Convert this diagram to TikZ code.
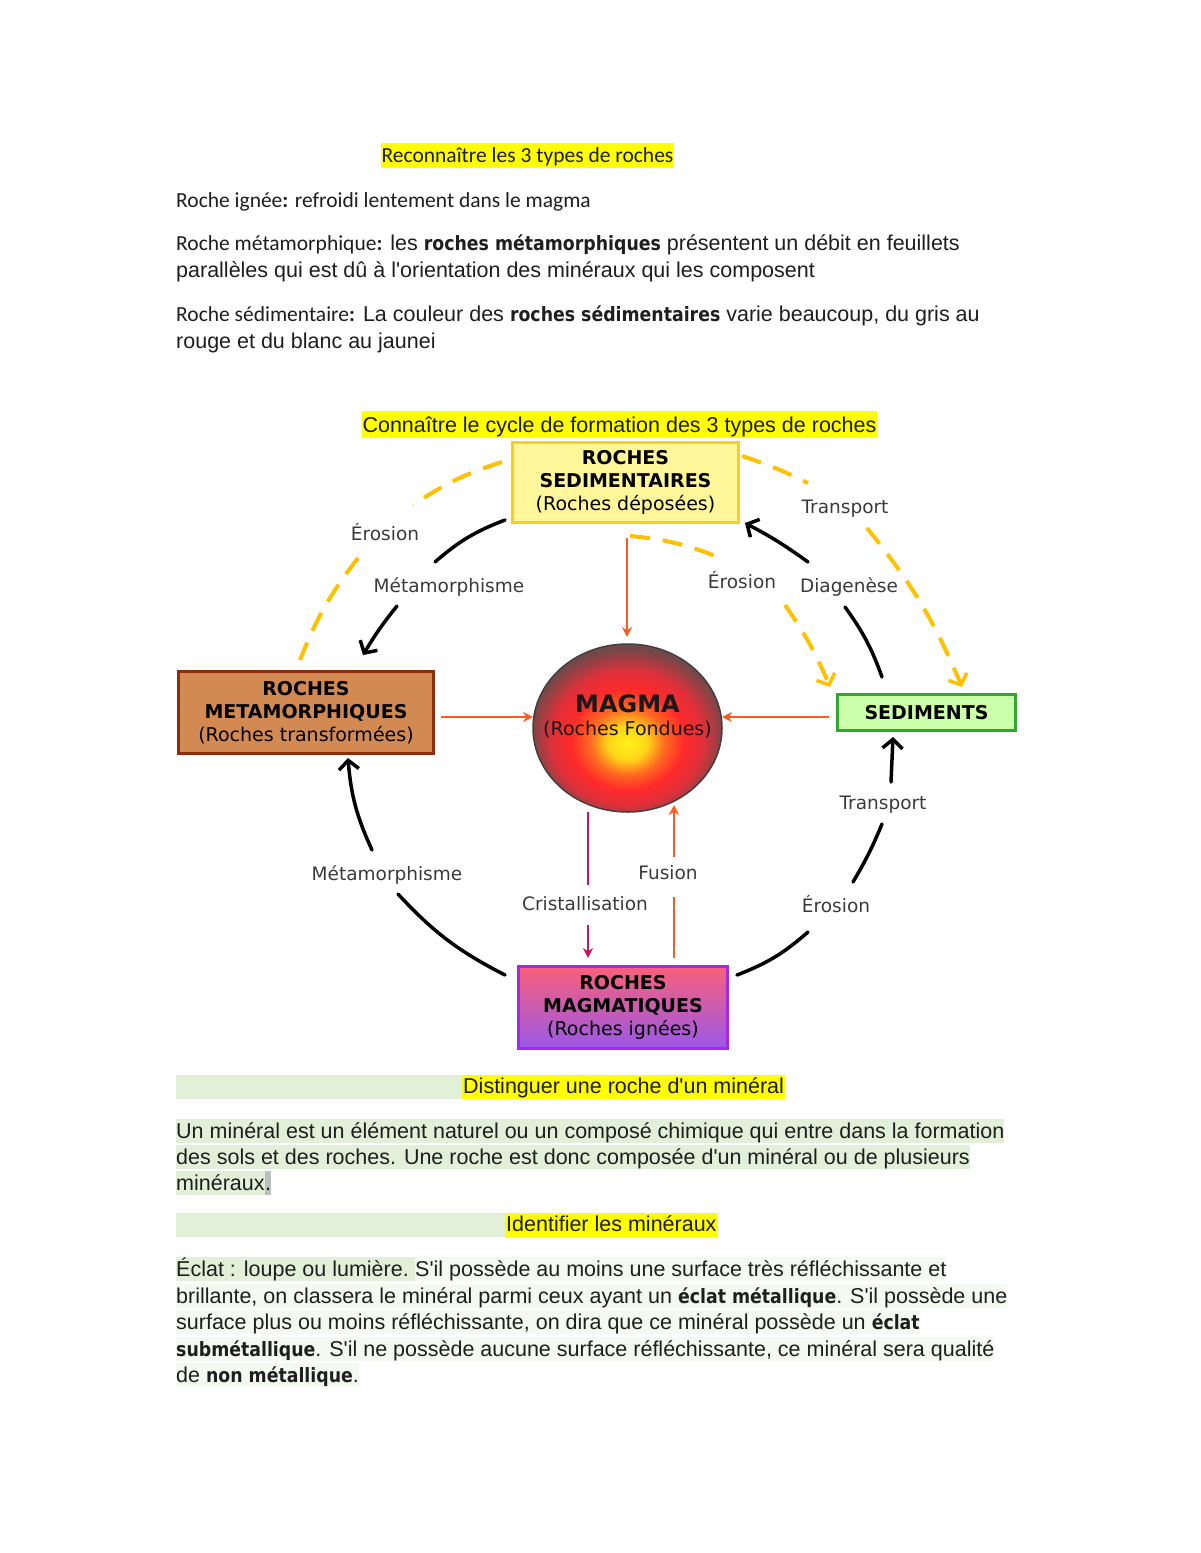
\documentclass[tikz,border=0pt]{standalone}
\usepackage{fontspec}
\setmainfont{Liberation Sans}[Ligatures=TeXOff]
\newfontfamily\calib{Carlito}
\newfontfamily\dvs{DejaVu Sans}
\newfontfamily\bfx{DejaVu Sans}[FakeStretch=0.88]
\usetikzlibrary{arrows.meta,shapes.geometric}
\definecolor{hlyel}{HTML}{FFFF00}
\definecolor{hlg}{HTML}{E2EFD9}
\definecolor{hlp}{HTML}{F4F9F1}
\definecolor{hlgray}{HTML}{BFBFBF}
\definecolor{yel}{HTML}{FFC000}
\definecolor{sedfill}{HTML}{FFF799}
\definecolor{sedline}{HTML}{F5D020}
\definecolor{metafill}{HTML}{D38A52}
\definecolor{metaline}{HTML}{8C2D0C}
\definecolor{sdfill}{HTML}{CCFFAA}
\definecolor{sdline}{HTML}{2EA82E}
\definecolor{magtop}{HTML}{F8607A}
\definecolor{magbot}{HTML}{9A58E8}
\definecolor{magline}{HTML}{A626EE}
\definecolor{orng}{HTML}{FF5A1E}
\definecolor{crim}{HTML}{C8145A}
\definecolor{lblgray}{HTML}{3A3A3A}
\definecolor{txtc}{HTML}{1E1E1E}
\definecolor{magY}{HTML}{FFF01A}
\definecolor{magO}{HTML}{FF9A1A}
\definecolor{magR}{HTML}{FF2A2A}
\definecolor{magRR}{HTML}{E0303A}
\definecolor{magD}{HTML}{744848}
\pgfdeclareradialshading{magmashade}{\pgfpoint{0bp}{-5bp}}{color(0bp)=(magY); color(5bp)=(magY!70!magO); color(10bp)=(magO!55!magR); color(15bp)=(magR); color(20bp)=(magRR); color(26bp)=(magD); color(50bp)=(magD)}
\newcommand\bt[1]{{\fontsize{19.7}{26}\selectfont\bfx\bfseries #1}}
\begin{document}
\begin{tikzpicture}[x=1pt,y=1pt,
  txt/.style={anchor=base west, inner sep=0pt, text=txtc, font=\fontsize{21.5}{26}\selectfont},
  hly/.style={fill=hlyel, inner xsep=1pt, inner ysep=0pt, text height=19pt, text depth=6pt},
  hg/.style={fill=hlg, text height=19pt, text depth=5pt},
  hp/.style={fill=hlp, text height=19pt, text depth=5pt},
  boxtxt/.style={align=center, inner sep=0pt, font=\dvs\fontsize{19}{23}\selectfont},
  lbl/.style={font=\dvs\fontsize{18.5}{22}\selectfont, text=lblgray, inner sep=1pt},
  blk/.style={draw=black, line width=3.5pt, line cap=round},
  blka/.style={blk, -{Straight Barb[length=9pt,width=20pt,line width=3.5pt]}},
  ydash/.style={draw=yel, line width=4pt, dash pattern=on 20pt off 13pt},
  ydasha/.style={ydash, -{Straight Barb[length=9pt,width=20pt,line width=3.5pt]}},
  oarr/.style={draw=orng, line width=2.5pt, -{Stealth[length=10pt,width=10pt]}},
  oline/.style={draw=orng, line width=2.5pt},
  carr/.style={draw=crim, line width=2.5pt, -{Stealth[length=10pt,width=10pt]}},
  cline/.style={draw=crim, line width=2.5pt}]
\useasboundingbox[fill=white] (0,0) rectangle (1200,-1553);

% ---------- top text ----------
\node[txt, hly, anchor=base] (h1) at (527.5,-162) {\calib Reconnaître les 3 types de roches};
\node[txt] (ign) at (176,-207) {\calib Roche ignée\textbf{:} refroidi lentement dans le magma};
\node[txt] (met1) at (176,-250) {{\calib Roche métamorphique\textbf{:}} les \bt{roches métamorphiques} présentent un débit en feuillets};
\node[txt] (met2) at (176,-277) {parallèles qui est dû à l'orientation des minéraux qui les composent};
\node[txt] (sed1) at (176,-321) {{\calib Roche sédimentaire\textbf{:}} La couleur des \bt{roches sédimentaires} varie beaucoup, du gris au};
\node[txt] (sed2) at (176,-348) {rouge et du blanc au jaunei};

\node[txt, hly, anchor=base, text height=21pt] (h2) at (619.5,-432) {Connaître le cycle de formation des 3 types de roches};

% ---------- diagram boxes ----------
\node[boxtxt, draw=sedline, line width=3pt, fill=sedfill, minimum width=226pt, minimum height=80pt] (sedR) at (625.5,-482.5)
  {\textbf{ROCHES}\\\textbf{SEDIMENTAIRES}\\(Roches déposées)};
\node[boxtxt, draw=metaline, line width=3.5pt, fill=metafill, minimum width=255pt, minimum height=82pt] (metaR) at (306,-712.5)
  {\textbf{ROCHES}\\\textbf{METAMORPHIQUES}\\(Roches transformées)};
\node[boxtxt, draw=sdline, line width=3pt, fill=sdfill, minimum width=178pt, minimum height=36pt] (sedim) at (926.5,-712.5)
  {\textbf{SEDIMENTS}};
\node[boxtxt, draw=magline, line width=3pt, top color=magtop, bottom color=magbot, minimum width=209pt, minimum height=82pt] (magR) at (623,-1007.5)
  {\textbf{ROCHES}\\\textbf{MAGMATIQUES}\\(Roches ignées)};
\node[ellipse, draw=black!75, line width=1.5pt, shading=magmashade, minimum width=189pt, minimum height=168pt] (magma) at (627.5,-728) {};
\node[boxtxt, text=black!90] (magmatxt) at (627.5,-716)
  {{\fontsize{24}{26}\selectfont\textbf{MAGMA}}\\(Roches Fondues)};

% ---------- labels ----------
\node[lbl] (e1) at (385,-532) {Érosion};
\node[lbl] (m1) at (449,-587) {Métamorphisme};
\node[lbl] (e2) at (742,-580) {Érosion};
\node[lbl] (t1) at (845,-509) {Transport};
\node[lbl] (d1) at (849,-587) {Diagenèse};
\node[lbl] (m2) at (387,-875) {Métamorphisme};
\node[lbl] (cr) at (585,-904) {Cristallisation};
\node[lbl] (fu) at (668,-873) {Fusion};
\node[lbl] (e3) at (836,-904) {Érosion};
\node[lbl] (t2) at (883,-805) {Transport};

% ---------- connector end points ----------
\coordinate (a1s) at (505,-520); \coordinate (a1e) at (435,-562);
\coordinate (a1t) at (397,-606); \coordinate (a1h) at (363,-655);
\coordinate (a2s) at (882,-677); \coordinate (a2e) at (845,-607);
\coordinate (a2t) at (808,-562); \coordinate (a2h) at (745,-523);
\coordinate (a3s) at (505,-975); \coordinate (a3e) at (398,-894);
\coordinate (a3t) at (372,-850); \coordinate (a3h) at (348,-758);
\coordinate (a4s) at (737,-975); \coordinate (a4e) at (808,-932);
\coordinate (a4t) at (853,-882); \coordinate (a4u) at (882,-824);
\coordinate (a4v) at (891,-782); \coordinate (a4h) at (893,-737);
\coordinate (y1s) at (502,-462); \coordinate (y1e) at (413,-505);
\coordinate (y1t) at (358,-558); \coordinate (y1h) at (300,-660);
\coordinate (y2s) at (742,-456); \coordinate (y2e) at (808,-483);
\coordinate (y2t) at (867,-528); \coordinate (y2h) at (962,-687);
\coordinate (y3s) at (630,-536); \coordinate (y3e) at (718,-557);
\coordinate (y3t) at (785,-605); \coordinate (y3h) at (830,-687);
\coordinate (o1s) at (627,-538); \coordinate (o1h) at (627,-637);
\coordinate (o2s) at (441,-717); \coordinate (o2h) at (533,-717);
\coordinate (o3s) at (829,-717); \coordinate (o3h) at (722,-717);
\coordinate (c1s) at (588,-812); \coordinate (c1e) at (588,-885);
\coordinate (c2s) at (588,-925); \coordinate (c2h) at (588,-958);
\coordinate (f1s) at (674,-958); \coordinate (f1e) at (674,-897);
\coordinate (f2s) at (674,-857); \coordinate (f2h) at (674,-805);

% ---------- yellow dashed arcs ----------
\draw[ydash] (y1s) to[bend right=8] (y1e);
\draw[ydash] (y1t) to[bend right=8] (y1h);
\draw[ydash] (y2s) to[bend left=4] (y2e);
\draw[ydasha] (y2t) to[bend left=8] (y2h);
\draw[ydash] (y3s) to[bend left=8] (y3e);
\draw[ydasha] (y3t) to[bend left=6] (y3h);

% ---------- black arcs ----------
\draw[blk] (a1s) to[bend right=10] (a1e);
\draw[blka] (a1t) to[bend right=4] (a1h);
\draw[blk] (a2s) to[bend right=8] (a2e);
\draw[blka] (a2t) to[bend right=4] (a2h);
\draw[blk] (a3s) to[bend left=10] (a3e);
\draw[blka] (a3t) to[bend left=10] (a3h);
\draw[blk] (a4s) to[bend right=10] (a4e);
\draw[blk] (a4t) to[bend right=4] (a4u);
\draw[blka] (a4v) to (a4h);

% ---------- straight arrows ----------
\draw[oarr] (o1s) -- (o1h);
\draw[oarr] (o2s) -- (o2h);
\draw[oarr] (o3s) -- (o3h);
\draw[cline] (c1s) -- (c1e);
\draw[carr] (c2s) -- (c2h);
\draw[oline] (f1s) -- (f1e);
\draw[oarr] (f2s) -- (f2h);

% ---------- bottom text ----------
\fill[hlg] (176,-1075) rectangle (462,-1099);
\node[txt, hly, text height=18pt, text depth=6pt] (dist) at (462,-1093) {Distinguer une roche d'un minéral};
\node[txt, hg] (p1a) at (176,-1138) {Un minéral est un élément naturel ou un composé chimique qui entre dans la formation};
\node[txt, hg] (p1b) at (176,-1164) {des sols et des roches. Une roche est donc composée d'un minéral ou de plusieurs};
\node[txt, hg] (p1c) at (176,-1190) {minéraux};
\node[txt, fill=hlgray, text height=19pt, text depth=5pt] (p1d) at (p1c.base east) {.};

\fill[hlg] (176,-1213) rectangle (505,-1237);
\node[txt, hly, text height=18pt, text depth=6pt] (ident) at (505,-1231) {Identifier les minéraux};
\node[txt, hg] (q1a) at (176,-1276) {Éclat : loupe ou lumière.\kern6pt};
\node[txt, hp] (q1b) at (q1a.base east) {S'il possède au moins une surface très réfléchissante et};
\node[txt, hp] (q2) at (176,-1303) {brillante, on classera le minéral parmi ceux ayant un \bt{éclat métallique}. S'il possède une};
\node[txt, hp] (q3) at (176,-1329) {surface plus ou moins réfléchissante, on dira que ce minéral possède un \bt{éclat}};
\node[txt, hp] (q4) at (176,-1356) {\bt{submétallique}. S'il ne possède aucune surface réfléchissante, ce minéral sera qualité};
\node[txt, hp] (q5) at (176,-1382) {de \bt{non métallique}.};
\end{tikzpicture}
\end{document}
